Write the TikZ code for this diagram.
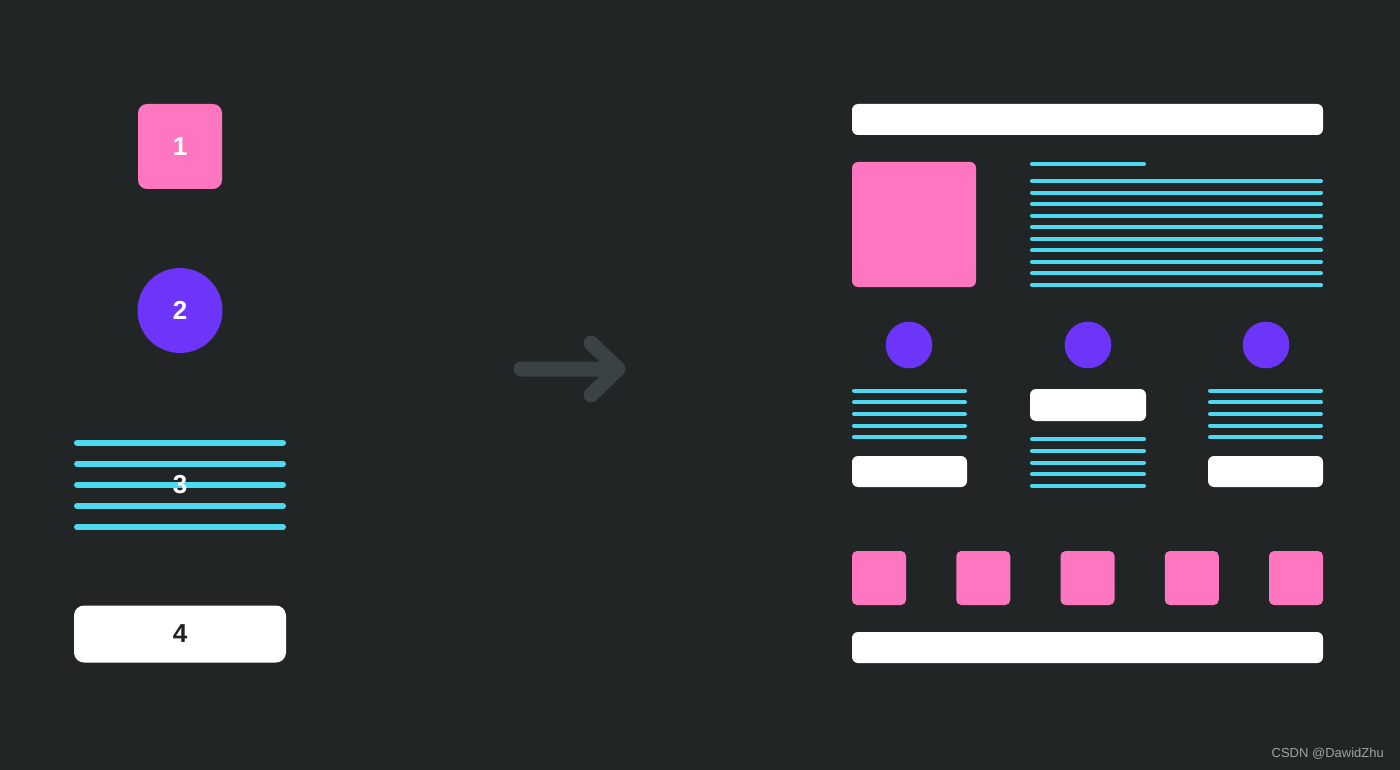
\documentclass[tikz,border=0pt]{standalone}
\usepackage{fontspec}
\setmainfont{Liberation Sans}
\usepackage{xcolor}
\usetikzlibrary{math}

\definecolor{bgdark}{HTML}{212526}
\definecolor{blockpink}{HTML}{FF76C0}
\definecolor{blockpurple}{HTML}{6D34F9}
\definecolor{linecyan}{HTML}{4DD9EF}
\definecolor{arrowgrey}{HTML}{3A4245}
\definecolor{digitdark}{HTML}{202324}
\definecolor{markgrey}{HTML}{A0A2A3}

\begin{document}
\begin{tikzpicture}[x=1pt,y=-1pt,
  digit/.style={inner sep=0pt, font=\bfseries\fontsize{26}{26}\selectfont},
  textline/.style={linecyan, line width=6pt, line cap=round},
  thinline/.style={linecyan, line width=4pt, line cap=round},
  button/.style={fill=white, rounded corners=6pt}]

  \tikzmath{
    \gap    = 11.56;  % spacing of the long paragraph lines
    \colgap = 11.65;  % spacing of the column lines
    \sqstep = 104.25; % step of the small pink squares
  }

  % background and page size
  \fill[bgdark] (0,0) rectangle (1400,770);
  \useasboundingbox (0,0) rectangle (1400,770);

  % building blocks on the left
  \node[digit, fill=blockpink, text=white, rounded corners=9pt,
        minimum width=84pt, minimum height=85pt] (one) at (180,146.5) {1};
  \node[digit, circle, fill=blockpurple, text=white,
        minimum size=85pt] (two) at (180,310.5) {2};
  \foreach \i in {0,...,4}
    \draw[textline] (77,{442.7+21.1*\i}) -- (283,{442.7+21.1*\i});
  \node[digit, text=white] (three) at (180,485) {3};
  \node[digit, fill=white, text=digitdark, rounded corners=10pt,
        minimum width=212pt, minimum height=57pt] (four) at (180,634) {4};

  % arrow
  \draw[arrowgrey, line width=15pt, line cap=round, line join=round]
    (521,369) -- (618,369) (591,343) -- (618,369) -- (591,395);

  % header and hero
  \fill[button] (852,104) rectangle (1323,135);
  \fill[blockpink, rounded corners=6pt] (852,162) rectangle (976,287);
  \draw[thinline] (1032,164) -- (1144,164);
  \foreach \i in {0,...,9}
    \draw[thinline] (1032,{181+\gap*\i}) -- (1321,{181+\gap*\i});

  % three columns
  \foreach \x in {909,1088,1266}
    \fill[blockpurple] (\x,345) circle [radius=23.3pt];
  \foreach \x in {852,1208}{
    \foreach \i in {0,...,4}
      \draw[thinline] ({\x+2},{390.7+\colgap*\i}) -- ({\x+113},{390.7+\colgap*\i});
    \fill[button] (\x,456) rectangle ++(115,31);
  }
  \fill[button] (1030,389) rectangle (1146,421);
  \foreach \i in {0,...,4}
    \draw[thinline] (1032,{439.3+\colgap*\i}) -- (1144,{439.3+\colgap*\i});

  % gallery and footer
  \foreach \i in {0,...,4}
    \fill[blockpink, rounded corners=5pt] ({852+\sqstep*\i},551) rectangle ++(54,54);
  \fill[button] (852,632) rectangle (1323,663);

  % watermark
  \node[anchor=east, inner sep=0pt, text=markgrey,
        font=\fontsize{13}{13}\selectfont] (mark) at (1384,754) {CSDN @DawidZhu};

\end{tikzpicture}
\end{document}
